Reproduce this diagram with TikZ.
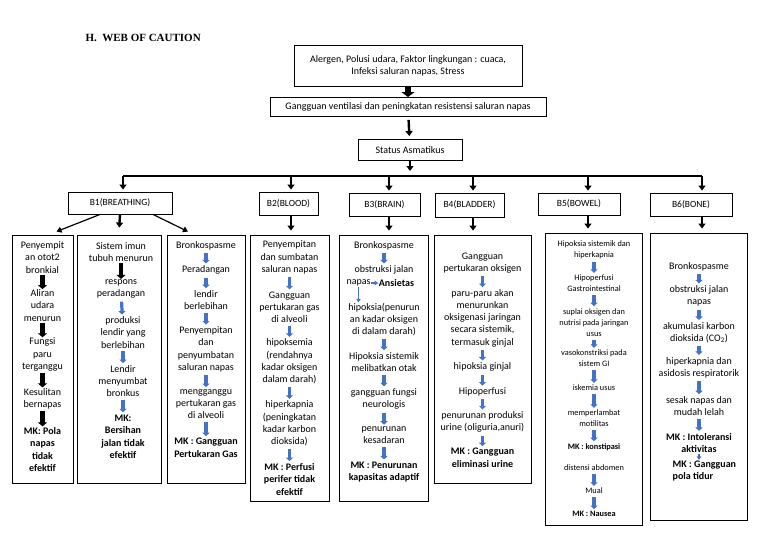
\documentclass[tikz,border=0pt]{standalone}
\usepackage{fontspec}
\setmainfont{Carlito}
\newfontfamily\titlefont{Liberation Serif}
\usetikzlibrary{positioning, arrows.meta}
\definecolor{arrowblue}{RGB}{68,114,196}

\begin{document}
\begin{tikzpicture}[x=1pt, y=-1pt,
    box/.style = {draw, line width=0.9pt, align=center, inner sep=0pt, font=\fontsize{10}{12.6}\selectfont},
    lbl/.style = {box, font=\fontsize{9.5}{11}\selectfont},
    col/.style = {draw, line width=0.9pt, inner sep=0pt},
    txt/.style = {align=center, inner sep=0.5pt, font=\fontsize{10}{12.2}\selectfont},
    mk/.style = {txt, font=\fontsize{10}{12.6}\selectfont\bfseries},
    txtsm/.style = {txt, font=\fontsize{8.3}{11.2}\selectfont},
    mksm/.style = {txt, font=\fontsize{8.3}{11.2}\selectfont\bfseries},
    bigarr/.style = {line width=5.5pt, -{Triangle[width=13pt,length=5pt]}, shorten <=0.5pt},
    arr/.style = {line width=2.4pt, -{Triangle[width=7pt,length=5pt]}},
    fan/.style = {line width=1.2pt, -{Triangle[width=6pt,length=5pt]}},
    blk/.style = {line width=4.5pt, -{Triangle[width=9pt,length=4pt]}, shorten <=1pt},
    blu/.style = {arrowblue, line width=3.2pt, -{Triangle[width=7pt,length=3.5pt]}, shorten <=2.5pt, shorten >=1.5pt},
    thinblu/.style = {arrowblue, line width=1.4pt, -{Triangle[width=4.5pt,length=3.5pt]}}]

    \useasboundingbox[fill=white] (0,0) rectangle (768,543);

    \node[anchor=base west, font=\titlefont\bfseries\fontsize{11}{13}\selectfont] (title) at (82,42) {H.\ \ WEB OF CAUTION};

    \node[box, minimum width=228pt, minimum height=41pt] (src) at (408,66) {Alergen, Polusi udara, Faktor lingkungan : cuaca,\\Infeksi saluran napas, Stress};
    \node[box, minimum width=276pt, minimum height=19pt] (vent) at (408,107) {Gangguan ventilasi dan peningkatan resistensi saluran napas};
    \node[box, minimum width=104pt, minimum height=21pt] (status) at (410,150) {Status Asmatikus};

    \coordinate (hub) at (410,176);
    \coordinate (t1) at (123,176);
    \coordinate (t2) at (291,176);
    \coordinate (t3) at (389,176);
    \coordinate (t4) at (473,176);
    \coordinate (t5) at (588,176);
    \coordinate (t6) at (702,176);

    \node[lbl, minimum width=104pt, minimum height=22pt] (b1) at (120,203) {B1(BREATHING)};
    \node[lbl, minimum width=59pt, minimum height=23pt] (b2) at (288.5,203.5) {B2(BLOOD)};
    \node[lbl, minimum width=71pt, minimum height=23pt] (b3) at (384.5,204.5) {B3(BRAIN)};
    \node[lbl, minimum width=69pt, minimum height=24pt] (b4) at (469.5,205) {B4(BLADDER)};
    \node[lbl, minimum width=82pt, minimum height=22pt] (b5) at (579,204) {B5(BOWEL)};
    \node[lbl, minimum width=82pt, minimum height=23pt] (b6) at (691,204.5) {B6(BONE)};

    \node[col, minimum width=61pt, minimum height=248pt] (c1a) at (42.5,359) {};
    \node[col, minimum width=84pt, minimum height=248pt] (c1b) at (119,359) {};
    \node[col, minimum width=78pt, minimum height=248pt] (c1c) at (206,359) {};
    \node[col, minimum width=79pt, minimum height=266pt] (c2) at (289.5,368) {};
    \node[col, minimum width=89pt, minimum height=266pt] (c3) at (383.5,368) {};
    \node[col, minimum width=97pt, minimum height=248pt] (c4) at (482.5,359) {};
    \node[col, minimum width=97pt, minimum height=292pt] (c5) at (593.5,379) {};
    \node[col, minimum width=97pt, minimum height=287pt] (c6) at (698.5,376.5) {};

    \path[bigarr] (src) edge (vent);
    \path[arr, shorten <=3pt, shorten >=3pt] (vent) edge (status);
    \path[arr, shorten >=5pt] (status) edge (hub);
    \draw[line width=1.3pt] (t1) -- (t6);
    \path[arr, shorten >=2pt]
      (t1) edge (t1 |- b1.north)
      (t2) edge (t2 |- b2.north)
      (t3) edge (t3 |- b3.north)
      (t4) edge (t4 |- b4.north)
      (t5) edge (t5 |- b5.north)
      (t6) edge (t6 |- b6.north)
    ;
    \path[arr, shorten >=4pt]
      (t2 |- b2.south) edge (t2 |- c2.north)
      (t3 |- b3.south) edge (t3 |- c3.north)
      (t4 |- b4.south) edge (t4 |- c4.north)
      (t5 |- b5.south) edge (t5 |- c5.north)
      (t6 |- b6.south) edge (t6 |- c6.north)
      (b1.south) edge ([yshift=3pt]c1b.north)
    ;
    \path[fan]
      ([xshift=-20pt]b1.south) edge ([xshift=14pt,yshift=3pt]c1a.north)
      ([xshift=33pt]b1.south) edge ([xshift=-18pt,yshift=3pt]c1c.north)
    ;

    \node[txt] (b1a1) at (42.5,257.5) {Penyempit\\an otot2\\bronkial};
    \node[txt] (b1a2) at (42.5,305.5) {Aliran\\udara\\menurun};
    \node[txt] (b1a3) at (42.5,354.5) {Fungsi\\paru\\terganggu};
    \node[txt] (b1a4) at (42.5,398.5) {Kesulitan\\bernapas};
    \node[mk] (b1a5) at (42.5,449.5) {MK: Pola\\napas\\tidak\\efektif};
    \path[blk] (b1a1) edge (b1a2) (b1a2) edge (b1a3) (b1a3) edge (b1a4) (b1a4) edge (b1a5);

    \node[txt] (b1b1) at (121,251.7) {Sistem imun\\tubuh menurun};
    \node[txt] (b1b2) at (121,289) {respons\\peradangan};
    \node[txt] (b1b3) at (123,332.5) {produksi\\lendir yang\\berlebihan};
    \node[txt] (b1b4) at (123,381) {Lendir\\menyumbat\\bronkus};
    \node[mk] (b1b5) at (123,436.7) {MK:\\Bersihan\\jalan tidak\\efektif};
    \path[blk] (b1b1) edge (b1b2);
    \path[blu] (b1b2) edge (b1b3) (b1b3) edge (b1b4) (b1b4) edge (b1b5);

    \node[txt] (b1c1) at (206,245.7) {Bronkospasme};
    \node[txt] (b1c2) at (206,270) {Peradangan};
    \node[txt] (b1c3) at (206,300) {lendir\\berlebihan};
    \node[txt] (b1c4) at (206,349.3) {Penyempitan\\dan\\penyumbatan\\saluran napas};
    \node[txt] (b1c5) at (206,404) {mengganggu\\pertukaran gas\\di alveoli};
    \node[mk] (b1c6) at (206,448) {MK : Gangguan\\Pertukaran Gas};
    \path[blu] (b1c1) edge (b1c2) (b1c2) edge (b1c3) (b1c3) edge (b1c4) (b1c4) edge (b1c5) (b1c5) edge (b1c6);

    \node[txt] (b2a) at (289.5,257.5) {Penyempitan\\dan sumbatan\\saluran napas};
    \node[txt] (b2b) at (289.5,307) {Gangguan\\pertukaran gas\\di alveoli};
    \node[txt] (b2c) at (289.5,361.5) {hipoksemia\\(rendahnya\\kadar oksigen\\dalam darah)};
    \node[txt] (b2d) at (289.5,423.5) {hiperkapnia\\(peningkatan\\kadar karbon\\dioksida)};
    \node[mk] (b2e) at (289.5,479.5) {MK : Perfusi\\perifer tidak\\efektif};
    \path[blu] (b2a) edge (b2b) (b2b) edge (b2c) (b2c) edge (b2d) (b2d) edge (b2e);

    \node[txt] (b3a) at (384,245.7) {Bronkospasme};
    \node[txt] (b3b) at (384,270) {obstruksi jalan};
    \node[txt] (b3c) at (358.5,283) {napas};
    \node[mk, right=7pt of b3c] (ans) {Ansietas};
    \node[txt] (b3d) at (384,319.5) {hipoksia(penurun\\an kadar oksigen\\di dalam darah)};
    \node[txt] (b3e) at (384,362) {Hipoksia sistemik\\melibatkan otak};
    \node[txt] (b3f) at (384,399) {gangguan fungsi\\neurologis};
    \node[txt] (b3g) at (384,435.5) {penurunan\\kesadaran};
    \node[mk] (b3h) at (384,472) {MK : Penurunan\\kapasitas adaptif};
    \path[blu] (b3a) edge (b3b) (b3d) edge (b3e) (b3e) edge (b3f) (b3f) edge (b3g) (b3g) edge (b3h);
    \path[thinblu] (b3c) edge (ans) (b3c.south) edge (b3c.south |- b3d.north);

    \node[txt] (b4a) at (482.5,263) {Gangguan\\pertukaran oksigen};
    \node[txt] (b4b) at (482.5,318) {paru-paru akan\\menurunkan\\oksigenasi jaringan\\secara sistemik,\\termasuk ginjal};
    \node[txt] (b4c) at (482.5,367) {hipoksia ginjal};
    \node[txt] (b4d) at (482.5,392) {Hipoperfusi};
    \node[txt] (b4e) at (482.5,422) {penurunan produksi\\urine (oliguria,anuri)};
    \node[mk] (b4f) at (482.5,458) {MK : Gangguan\\eliminasi urine};
    \path[blu] (b4a) edge (b4b) (b4b) edge (b4c) (b4c) edge (b4d) (b4d) edge (b4e) (b4e) edge (b4f);

    \node[txtsm] (b5a) at (594,250) {Hipoksia sistemik dan\\hiperkapnia};
    \node[txtsm] (b5b) at (594,283.5) {Hipoperfusi\\Gastrointestinal};
    \node[txtsm] (b5c) at (594,322.5) {suplai oksigen dan\\nutrisi pada jaringan\\usus};
    \node[txtsm] (b5d) at (594,358.5) {vasokonstriksi pada\\sistem GI};
    \node[txtsm] (b5e) at (594,388) {iskemia usus};
    \node[txtsm] (b5f) at (594,418.5) {memperlambat\\motilitas};
    \node[mksm] (b5g) at (594,447) {MK : konstipasi};
    \node[txtsm] (b5h) at (594,468) {distensi abdomen};
    \node[txtsm] (b5i) at (594,491) {Mual};
    \node[mksm] (b5j) at (594,514) {MK : Nausea};
    \path[blu] (b5a) edge (b5b) (b5b) edge (b5c) (b5c) edge (b5d) (b5d) edge (b5e) (b5e) edge (b5f) (b5f) edge (b5g)
      (b5h) edge (b5i) (b5i) edge (b5j);

    \node[txt] (b6a) at (699,267) {Bronkospasme};
    \node[txt] (b6b) at (699,296) {obstruksi jalan\\napas};
    \node[txt] (b6c) at (699,332.5) {akumulasi karbon\\dioksida (CO\textsubscript{2})};
    \node[txt] (b6d) at (699,367.5) {hiperkapnia dan\\asidosis respiratorik};
    \node[txt] (b6e) at (699,406) {sesak napas dan\\mudah lelah};
    \node[mk] (b6f) at (699,443) {MK : Intoleransi\\aktivitas};
    \node[mk, align=left, anchor=west] (b6g) at (672,471) {MK : Gangguan\\pola tidur};
    \path[blu] (b6a) edge (b6b) (b6b) edge (b6c) (b6c) edge (b6d) (b6d) edge (b6e) (b6e) edge (b6f);
    \path[thinblu] (b6f) edge (b6f.south |- b6g.north);
  \end{tikzpicture}
\end{document}
